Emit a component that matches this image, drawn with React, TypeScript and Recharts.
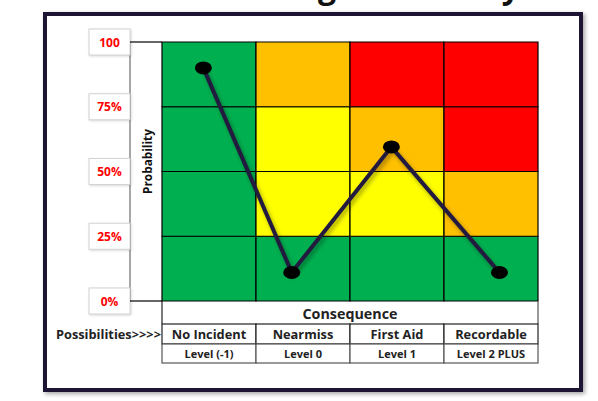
import React from "react";
import {
  ComposedChart,
  Line,
  XAxis,
  YAxis,
  ReferenceArea,
} from "recharts";

// consequence columns (x axis)
const consequences = ["No Incident", "Nearmiss", "First Aid", "Recordable"];
const levels = ["Level (-1)", "Level 0", "Level 1", "Level 2 PLUS"];
const columnCenters = [0.5, 1.5, 2.5, 3.5];

// plotted points: position along the consequence axis and probability (%)
const pointPositions = [0.44, 1.38, 2.44, 3.59];
const probabilities = [90, 11, 59.5, 11];

// probability ticks
const probabilityTicks = [0, 25, 50, 75, 100];
const probabilityTickLabels = ["0%", "25%", "50%", "75%", "100"];

// risk matrix, rows from bottom (0-25) to top (75-100)
const riskRows = [
  ["green", "green", "green", "green"],
  ["green", "yellow", "yellow", "orange"],
  ["green", "yellow", "orange", "red"],
  ["green", "orange", "red", "red"],
];

const COLORS: Record<string, string> = {
  green: "#00b050",
  yellow: "#ffff00",
  orange: "#ffc000",
  red: "#ff0000",
};

const FONT = "'Open Sans', sans-serif";
const CELL_W = 94;

const chartData = pointPositions.map((pos, i) => ({
  pos,
  probability: probabilities[i],
}));

const ProbabilityTick = (props: any) => {
  const { x, y, payload } = props;
  const idx = probabilityTicks.indexOf(payload.value);
  return (
    <g>
      <rect
        x={x - 73}
        y={y - 13}
        width={41}
        height={26}
        fill="#fff"
        stroke="#d4d4d4"
        strokeWidth={1}
        style={{ filter: "drop-shadow(1px 1px 1px rgba(0,0,0,0.15))" }}
      />
      <text
        x={x - 52.5}
        y={y + 4.5}
        textAnchor="middle"
        fill="#ff0000"
        fontFamily={FONT}
        fontWeight={700}
        fontSize={12}
      >
        {probabilityTickLabels[idx]}
      </text>
      {(payload.value === 0 || payload.value === 100) && (
        <line x1={x - 32} x2={x} y1={y} y2={y} stroke="#000" strokeWidth={1.2} />
      )}
    </g>
  );
};

const ConsequenceTick = (props: any) => {
  const { x, y, payload } = props;
  const idx = columnCenters.indexOf(payload.value);
  return (
    <g fontFamily={FONT} fontWeight={700} fill="#222">
      <rect x={x - CELL_W / 2} y={y + 23} width={CELL_W} height={20} fill="#fff" stroke="#222" strokeWidth={1.2} />
      <rect x={x - CELL_W / 2} y={y + 43} width={CELL_W} height={19} fill="#fff" stroke="#555" strokeWidth={1.2} />
      <text x={x} y={y + 38} textAnchor="middle" fontSize={12.8}>
        {consequences[idx]}
      </text>
      <text x={x} y={y + 57} textAnchor="middle" fontSize={11}>
        {levels[idx]}
      </text>
      {idx === 0 && (
        <text x={x - CELL_W / 2 - 1} y={y + 38} textAnchor="end" fontSize={12.8}>
          Possibilities&gt;&gt;&gt;&gt;
        </text>
      )}
    </g>
  );
};

const ConsequenceLabel = (props: any) => {
  const { viewBox } = props;
  const { x, y, width } = viewBox;
  return (
    <g>
      <line x1={x} x2={x} y1={y} y2={y + 23} stroke="#222" strokeWidth={1.2} />
      <line x1={x + width} x2={x + width} y1={y} y2={y + 23} stroke="#555" strokeWidth={1.2} />
      <text
        x={x + width / 2}
        y={y + 18}
        textAnchor="middle"
        fontFamily={FONT}
        fontWeight={700}
        fontSize={14.3}
        fill="#222"
      >
        Consequence
      </text>
    </g>
  );
};

const ProbabilityLabel = (props: any) => {
  const { viewBox } = props;
  const { x, y, width, height } = viewBox;
  const cx = x + width - 15;
  const cy = y + height / 2 - 10;
  return (
    <text
      x={cx}
      y={cy}
      transform={`rotate(-90 ${cx} ${cy})`}
      textAnchor="middle"
      dominantBaseline="central"
      fontFamily={FONT}
      fontWeight={700}
      fontSize={11.8}
      fill="#111"
    >
      Probability
    </text>
  );
};

const RiskDot = (props: any) => {
  const { cx, cy } = props;
  if (cx == null || cy == null) return null;
  return <ellipse cx={cx} cy={cy} rx={8.5} ry={6.5} fill="#000" />;
};

export default function App() {
  return (
    <div
      style={{
        position: "absolute",
        left: 0,
        top: 0,
        width: 598,
        height: 401,
        background: "#fff",
        overflow: "hidden",
      }}
    >
      <svg width={598} height={401} style={{ position: "absolute", left: 0, top: 0 }}>
        <text
          x={520}
          y={-2}
          textAnchor="end"
          fontFamily={FONT}
          fontWeight={700}
          fontSize={32}
          fill="#111"
        >
          Risk Rating Probability
        </text>
        <rect
          x={45}
          y={14}
          width={536}
          height={376}
          fill="#fff"
          stroke="#1d1533"
          strokeWidth={4}
          style={{ filter: "drop-shadow(2px 2px 2px rgba(0,0,0,0.35))" }}
        />
        <line x1={130} x2={130} y1={42} y2={301} stroke="#8a8a8a" strokeWidth={1.5} />
      </svg>
      <style>{`.risk-line path { filter: drop-shadow(2px 3px 2px rgba(0,0,0,0.35)); }`}</style>
      <div style={{ position: "absolute", left: 0, top: 0 }}>
        <ComposedChart
          width={598}
          height={401}
          data={chartData}
          margin={{ top: 42, right: 60, bottom: 38, left: 89 }}
        >
          <XAxis
            type="number"
            dataKey="pos"
            domain={[0, 4]}
            ticks={columnCenters}
            height={62}
            axisLine={false}
            tickLine={false}
            tickSize={0}
            tickMargin={0}
            interval={0}
            tick={<ConsequenceTick />}
            label={<ConsequenceLabel />}
          />
          <YAxis
            type="number"
            domain={[0, 100]}
            ticks={probabilityTicks}
            width={73}
            axisLine={false}
            tickLine={false}
            tickSize={0}
            tickMargin={0}
            interval={0}
            tick={<ProbabilityTick />}
            label={<ProbabilityLabel />}
          />
          {riskRows.map((row, r) =>
            row.map((color, c) => (
              <ReferenceArea
                key={`${r}-${c}`}
                x1={c}
                x2={c + 1}
                y1={r * 25}
                y2={(r + 1) * 25}
                fill={COLORS[color]}
                fillOpacity={1}
                stroke="#000"
                strokeWidth={1.2}
                ifOverflow="visible"
              />
            ))
          )}
          <Line
            className="risk-line"
            type="linear"
            dataKey="probability"
            stroke="#231a40"
            strokeWidth={4}
            dot={<RiskDot />}
            activeDot={false}
            isAnimationActive={false}
          />
        </ComposedChart>
      </div>
    </div>
  );
}
